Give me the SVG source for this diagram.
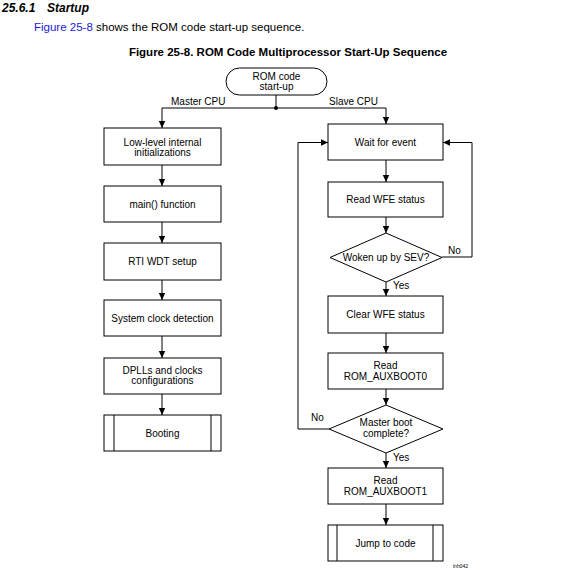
<svg xmlns="http://www.w3.org/2000/svg" width="582" height="570" viewBox="0 0 582 570">
<style>
text{font-family:"Liberation Sans",Arial,sans-serif;fill:#000}
.n{font-size:10px;text-anchor:middle}
.l{font-size:10px}
.box{fill:#fff;stroke:#000;stroke-width:1}
.c{fill:none;stroke:#000;stroke-width:1}
</style>
<defs>
<marker id="a" markerWidth="8" markerHeight="8" refX="7" refY="4" orient="auto" markerUnits="userSpaceOnUse">
<path d="M0,0.8 L7,4 L0,7.2 Z" fill="#000"/>
</marker>
</defs>
<rect width="582" height="570" fill="#fff"/>
<g id="heading">
<text x="2" y="12" font-size="12" font-weight="bold" font-style="italic">25.6.1</text>
<text x="47" y="12" font-size="12" font-weight="bold" font-style="italic">Startup</text>
<text x="34" y="31" font-size="11.5"><tspan fill="#1a1ad0">Figure 25-8</tspan> shows the ROM code start-up sequence.</text>
<text x="288" y="56" font-size="11.5" font-weight="bold" text-anchor="middle">Figure 25-8. ROM Code Multiprocessor Start-Up Sequence</text>
</g>
<g id="connectors">
<path class="c" d="M276,95 V108"/>
<circle cx="276" cy="108" r="2" fill="#000"/>
<path class="c" d="M162,108 H386"/>
<path class="c" marker-end="url(#a)" d="M162,108 V128"/>
<path class="c" marker-end="url(#a)" d="M386,108 V124"/>
<path class="c" marker-end="url(#a)" d="M162,165 V186"/>
<path class="c" marker-end="url(#a)" d="M162,222 V243"/>
<path class="c" marker-end="url(#a)" d="M162,280 V300"/>
<path class="c" marker-end="url(#a)" d="M162,336 V358"/>
<path class="c" marker-end="url(#a)" d="M162,394 V415"/>
<path class="c" marker-end="url(#a)" d="M386,160 V182"/>
<path class="c" marker-end="url(#a)" d="M386,217 V233"/>
<path class="c" marker-end="url(#a)" d="M386,282 V296"/>
<path class="c" marker-end="url(#a)" d="M386,333 V353"/>
<path class="c" marker-end="url(#a)" d="M386,389 V405"/>
<path class="c" marker-end="url(#a)" d="M386,453 V468"/>
<path class="c" marker-end="url(#a)" d="M386,504 V525"/>
<path class="c" marker-end="url(#a)" d="M442,257 H472 V142.5 H443"/>
<path class="c" marker-end="url(#a)" d="M329,429 H298 V142.5 H328"/>
<text class="l" x="171" y="105">Master CPU</text>
<text class="l" x="329" y="105">Slave CPU</text>
<text class="l" x="448" y="254">No</text>
<text class="l" x="393" y="289">Yes</text>
<text class="l" x="311" y="421">No</text>
<text class="l" x="393" y="461">Yes</text>
</g>
<g id="start">
<rect class="box" x="226" y="68" width="101" height="27" rx="13.5"/>
<text class="n" x="276.5" y="80">ROM code</text>
<text class="n" x="276.5" y="90">start-up</text>
</g>
<g id="lowlevel">
<rect class="box" x="104" y="128" width="117" height="37"/>
<text class="n" x="162.5" y="145.5">Low-level internal</text>
<text class="n" x="162.5" y="156">initializations</text>
</g>
<g id="main">
<rect class="box" x="104" y="186" width="117" height="36"/>
<text class="n" x="162.5" y="207.5">main() function</text>
</g>
<g id="rti">
<rect class="box" x="104" y="243" width="117" height="37"/>
<text class="n" x="162.5" y="265">RTI WDT setup</text>
</g>
<g id="sysclk">
<rect class="box" x="104" y="300" width="117" height="36"/>
<text class="n" x="162.5" y="321.5">System clock detection</text>
</g>
<g id="dplls">
<rect class="box" x="104" y="358" width="117" height="36"/>
<text class="n" x="162.5" y="373.5">DPLLs and clocks</text>
<text class="n" x="162.5" y="384">configurations</text>
</g>
<g id="booting">
<rect class="box" x="104" y="415" width="117" height="36"/>
<path class="c" d="M114,415 V451 M211,415 V451"/>
<text class="n" x="162.5" y="437">Booting</text>
</g>
<g id="wfe">
<rect class="box" x="328" y="124" width="115" height="36"/>
<text class="n" x="385.5" y="145.5">Wait for event</text>
</g>
<g id="readwfe">
<rect class="box" x="328" y="182" width="115" height="35"/>
<text class="n" x="385.5" y="203">Read WFE status</text>
</g>
<g id="woken">
<polygon class="box" points="386,233 442,257.5 386,282 330,257.5"/>
<text class="n" x="386" y="261">Woken up by SEV?</text>
</g>
<g id="clearwfe">
<rect class="box" x="328" y="296" width="115" height="37"/>
<text class="n" x="385.5" y="318">Clear WFE status</text>
</g>
<g id="aux0">
<rect class="box" x="328" y="353" width="115" height="36"/>
<text class="n" x="385.5" y="369">Read</text>
<text class="n" x="385.5" y="380">ROM_AUXBOOT0</text>
</g>
<g id="masterboot">
<polygon class="box" points="386,405 443,429 386,453 329,429"/>
<text class="n" x="386" y="426">Master boot</text>
<text class="n" x="386" y="437">complete?</text>
</g>
<g id="aux1">
<rect class="box" x="328" y="468" width="115" height="36"/>
<text class="n" x="385.5" y="483.5">Read</text>
<text class="n" x="385.5" y="494.5">ROM_AUXBOOT1</text>
</g>
<g id="jump">
<rect class="box" x="328" y="525" width="115" height="36"/>
<path class="c" d="M337,525 V561 M433,525 V561"/>
<text class="n" x="385.5" y="547">Jump to code</text>
</g>
<text x="453" y="567.5" font-size="5" fill="#555">lnh042</text>
</svg>
